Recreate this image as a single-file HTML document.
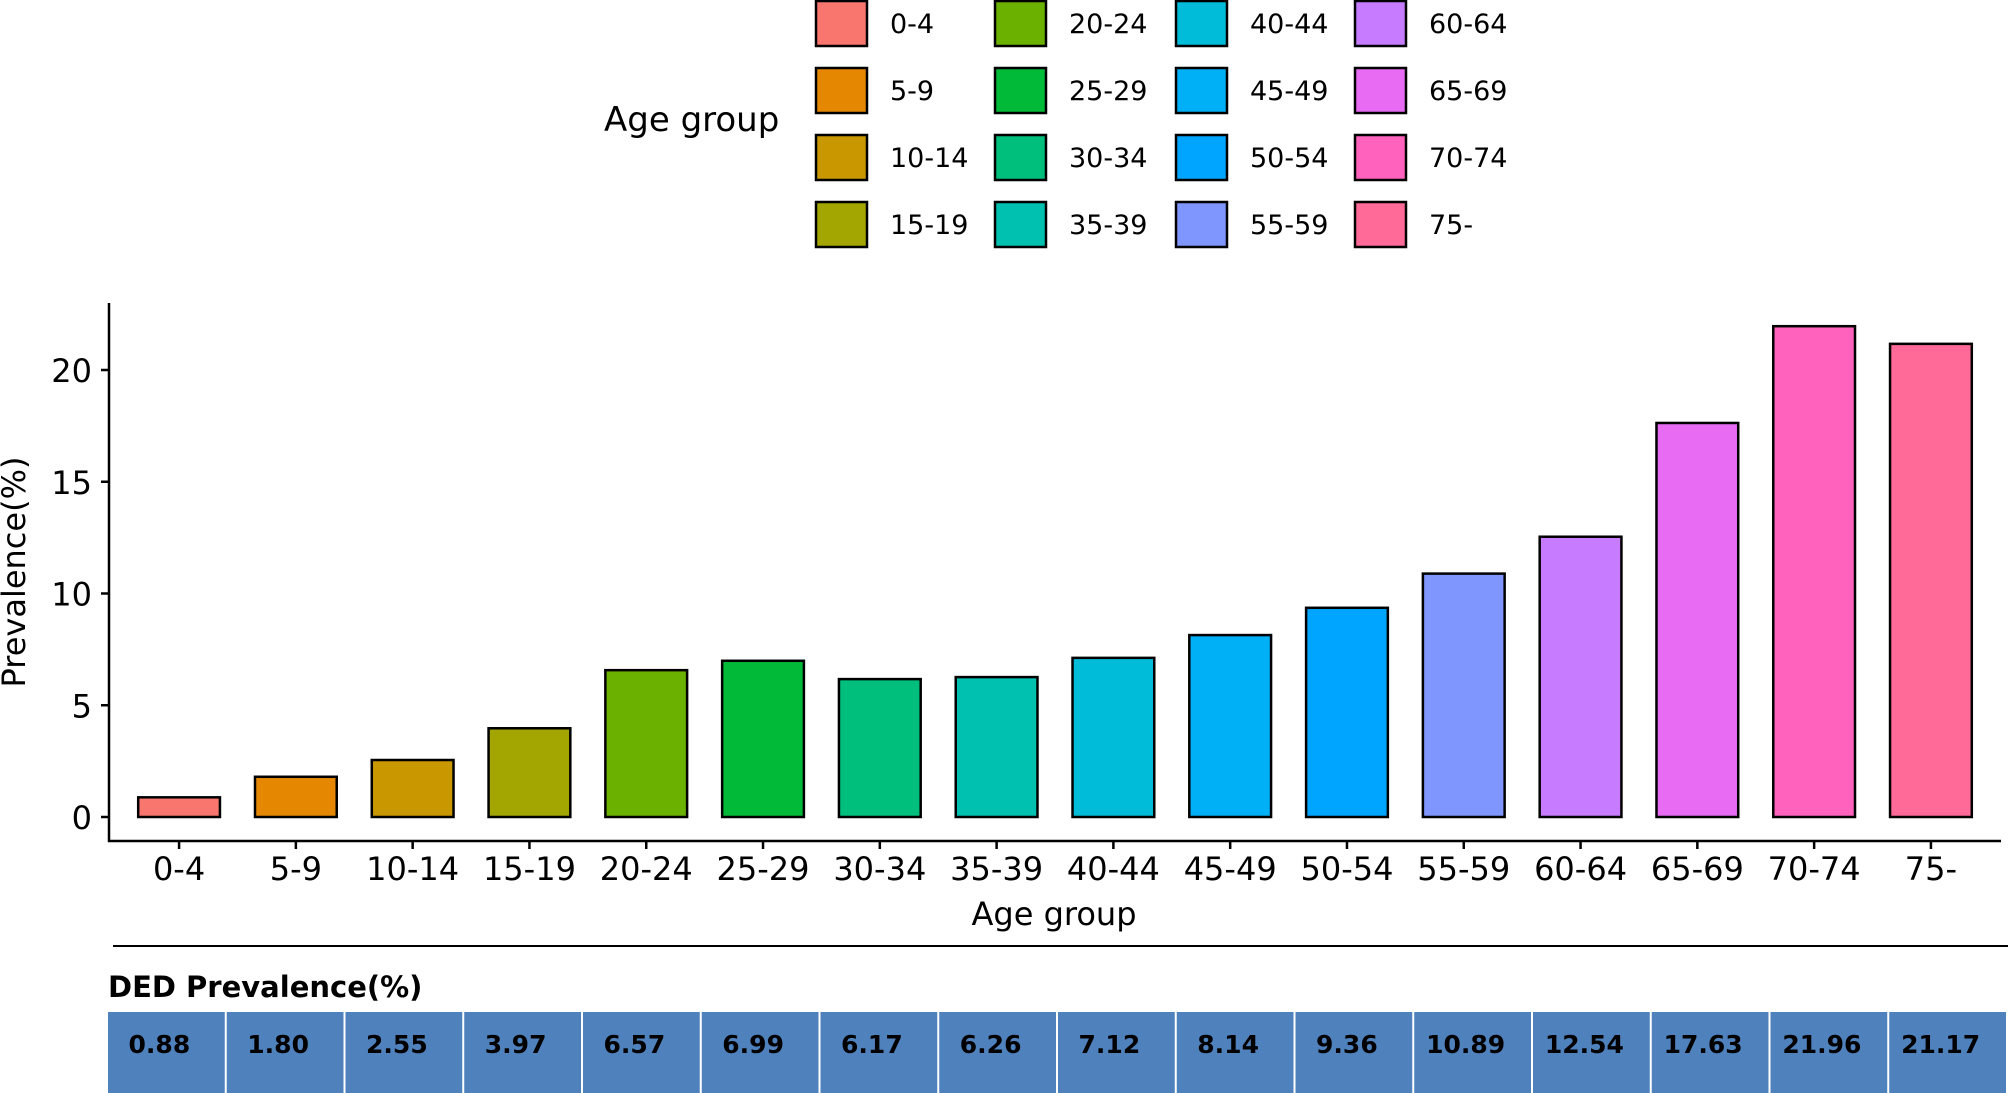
<!DOCTYPE html>
<html><head><meta charset="utf-8"><style>
body{margin:0;background:#fff;width:2008px;height:1093px;overflow:hidden;font-family:"DejaVu Sans","Liberation Sans",sans-serif}
svg{display:block}
</style></head><body>
<svg id="chart" width="2008" height="1093" xmlns="http://www.w3.org/2000/svg" font-family="DejaVu Sans, Liberation Sans, sans-serif"></svg>
<script>
const categories=["0-4","5-9","10-14","15-19","20-24","25-29","30-34","35-39","40-44","45-49","50-54","55-59","60-64","65-69","70-74","75-"];
const values=[0.88,1.80,2.55,3.97,6.57,6.99,6.17,6.26,7.12,8.14,9.36,10.89,12.54,17.63,21.96,21.17];
const colors=["#F8766D","#E58700","#C99800","#A3A500","#6BB100","#00BA38","#00BF7D","#00C0AF","#00BCD8","#00B0F6","#00A5FF","#7F96FF","#C77CFF","#E76BF3","#FF62BC","#FF6A98"];
const yTicks=[0,5,10,15,20];
const NS="http://www.w3.org/2000/svg";
const svg=document.getElementById('chart');
function mk(t,a){const e=document.createElementNS(NS,t);for(const k in a)e.setAttribute(k,a[k]);svg.appendChild(e);return e;}
const x0=109,x1=2001,y0=817,pxPerUnit=22.35,axisY=841;
const step=(x1-x0)/(categories.length-1+1.2);
const xS=i=>x0+step*(0.6+i);
const yS=v=>y0-v*pxPerUnit;

// legend
let lt=mk('text',{x:604,y:131,'font-size':34,fill:'#000'});
lt.textContent='Age group';


const colX=[816,995,1176,1355], rowY=[1,68,135,202];
categories.forEach((c,i)=>{
  const col=Math.floor(i/4), row=i%4;
  let k=mk('rect',{x:colX[col],y:rowY[row],width:51,height:45,fill:colors[i],stroke:'#000','stroke-width':2.5});
  
  
  let t=mk('text',{x:colX[col]+74,y:rowY[row]+32,'font-size':27,fill:'#000'});
  t.textContent=c;
  
  
});

// axes
let e=mk('line',{x1:x0,y1:303,x2:x0,y2:842,stroke:'#000','stroke-width':2.5});


e=mk('line',{x1:x0-1,y1:axisY,x2:x1,y2:axisY,stroke:'#000','stroke-width':2.5});


yTicks.forEach(v=>{
  let t=mk('line',{x1:x0-8,y1:yS(v),x2:x0,y2:yS(v),stroke:'#000','stroke-width':2.5});
  
  
  let l=mk('text',{x:x0-17,y:yS(v)+12,'text-anchor':'end','font-size':32,fill:'#000'});
  l.textContent=v;
  
  
});
const bw=step*0.7;
categories.forEach((c,i)=>{
  let r=mk('rect',{x:xS(i)-bw/2,y:yS(values[i]),width:bw,height:values[i]*pxPerUnit,fill:colors[i],stroke:'#000','stroke-width':2.5});
  
  
  let t=mk('line',{x1:xS(i),y1:axisY,x2:xS(i),y2:axisY+8,stroke:'#000','stroke-width':2.5});
  
  
  let l=mk('text',{x:xS(i),y:880,'text-anchor':'middle','font-size':32,fill:'#000'});
  l.textContent=c;
  
  
});
let xt=mk('text',{x:1054,y:925,'text-anchor':'middle','font-size':32,fill:'#000'});
xt.textContent='Age group';


let yt=mk('text',{x:0,y:0,'text-anchor':'middle','font-size':32,fill:'#000',transform:'translate(25,572) rotate(-90)'});
yt.textContent='Prevalence(%)';



// separator and table
let sep=mk('line',{x1:113,y1:946,x2:2008,y2:946,stroke:'#000','stroke-width':2});


let th=mk('text',{x:108,y:997,'font-size':29,'font-weight':'bold',fill:'#000'});
th.textContent='DED Prevalence(%)';


const cw=(2008-108)/categories.length;
values.forEach((v,i)=>{
  let c=mk('rect',{x:108+i*cw,y:1012,width:cw-2,height:81,fill:'#4F81BD'});
  
  
  let t=mk('text',{x:108+i*cw+cw/2-8,y:1053,'text-anchor':'middle','font-size':25,'font-weight':'bold',fill:'#000'});
  t.textContent=v.toFixed(2);
  
  
});
</script>
</body></html>
